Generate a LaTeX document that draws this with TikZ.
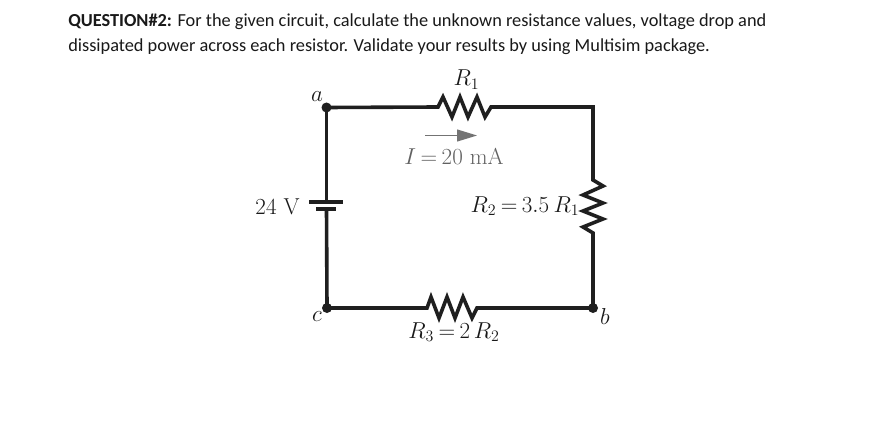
\documentclass[tikz,border=0pt]{standalone}
\usepackage{fontspec}
\newfontfamily\carl{Carlito}
\usetikzlibrary{arrows.meta}
\thickmuskip=3.5mu
\tikzset{
  wire/.style={line width=2.7pt,black!88,line join=miter},
  txt/.style={anchor=base west,inner sep=0pt,font=\fontsize{13.75}{15}\carl,text=black!90},
  lab/.style={inner sep=0pt,anchor=base,font=\LARGE,text=black!90},
  dot/.style={circle,fill=black!88,inner sep=0pt,minimum size=7.5pt}
}
\begin{document}
\begin{tikzpicture}[x=0.75pt,y=-0.75pt]
\useasboundingbox (0,0) rectangle (887,424);
\fill[white] (0,0) rectangle (887,424);
\node[txt] (t1) at (68,27) {\textbf{QUESTION\#2:} For the given circuit, calculate the unknown resistance values, voltage drop and};
\node[txt] (t2) at (68,52) {dissipated power across each resistor. Validate your results by using Multisim package.};
\node[dot] (a) at (326.5,107.5) {};
\node[dot] (c) at (327,308) {};
\node[dot] (b) at (593,308) {};
\coordinate (tr) at (593,107);
\coordinate (ba) at (326.5,202);
\coordinate (bb) at (326.5,209);
\draw[wire] (a.center) -- (438,107) -- (443,97) -- (452,117) -- (460,97) -- (468,117) -- (477,97) -- (485,117) -- (491,107) -- (tr) -- (593,180) -- (603,186) -- (583,195) -- (603,203) -- (583,211) -- (603,219) -- (583,227) -- (593,233) -- (b.center) -- (477,308) -- (472,318) -- (463,297) -- (455,318) -- (447,297) -- (439,318) -- (431,297) -- (427,308) -- (c.center) -- (bb);
\draw[wire] (a.center) -- (ba);
\draw[wire] (309,202) -- (343,202);
\draw[wire] (316,209) -- (336,209);
\coordinate (ar1) at (425,135.5);
\coordinate (ar2) at (477,135.5);
\draw[black!55,line width=0.8pt,-{Stealth[length=15pt,width=9pt,inset=0pt]}] (ar1) -- (ar2);
\node[lab] (la) at (317,102) {$a$};
\node[lab] (lc) at (317,321) {$c$};
\node[lab] (lb) at (605,324) {$b$};
\node[lab] (lr1) at (466.5,86) {$R_1$};
\node[lab,text=black!62] (li) at (454,164) {$I = 20\ \mathrm{mA}$};
\node[lab] (l24) at (277.5,214) {24 V};
\node[lab] (lr2) at (525,212) {$R_2 = 3.5\;R_1$};
\node[lab] (lr3) at (454,338) {$R_3 = 2\,R_2$};
\end{tikzpicture}
\end{document}
